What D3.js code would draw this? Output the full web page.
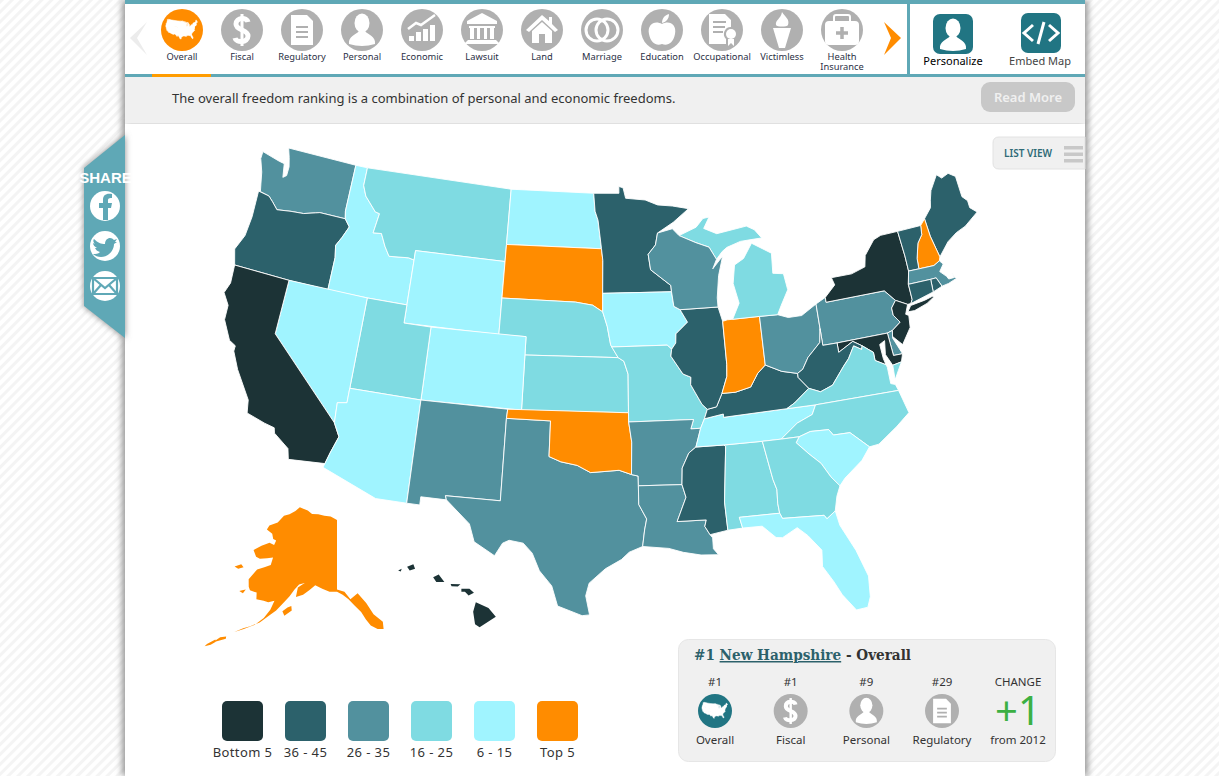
<!DOCTYPE html>
<html>
<head>
<meta charset="utf-8">
<script src="https://cdn.jsdelivr.net/npm/d3@7"></script>
<style>
html, body { margin: 0; padding: 0; background: #fff; overflow: hidden; }
svg { display: block; }
text { font-family: "Noto Sans", sans-serif; }
</style>
</head>
<body>
<svg id="page" width="1219" height="776"></svg>
<script>
// ---- state outlines, lon / lat ----
const WA = [[[-124.7,48.4],[-123.2,48.15],[-122.75,48.1],[-122.55,47.35],[-122.3,47.5],[-122.3,48.0],[-122.5,48.5],[-122.76,49],[-117.03,49],[-117.04,46.4],[-116.92,45.99],[-118.98,46],[-119.3,45.93],[-120.2,45.73],[-121.2,45.67],[-122.3,45.55],[-122.8,45.9],[-123.2,46.15],[-123.95,46.25],[-124.1,46.7],[-124.3,47.3],[-124.7,48]]];
const OR = [[[-124.1,46.25],[-123.2,46.15],[-122.8,45.9],[-122.3,45.55],[-121.2,45.67],[-120.2,45.73],[-119.3,45.93],[-118.98,46],[-116.92,45.99],[-116.47,45.6],[-116.85,44.95],[-117.2,44.45],[-117.03,43.8],[-117.03,42],[-120,42],[-124.2,42],[-124.55,42.84],[-124.1,43.7],[-124,44.8]]];
const ID = [[[-117.03,49],[-116.05,49],[-116.05,48],[-115.7,47.45],[-114.7,46.7],[-114.35,46.65],[-114.55,45.55],[-113.9,45.6],[-113.45,44.95],[-113,44.45],[-111.5,44.55],[-111.05,44.48],[-111.05,42],[-114.04,42],[-117.03,42],[-117.03,43.8],[-117.2,44.45],[-116.85,44.95],[-116.47,45.6],[-116.92,45.99],[-117.04,46.4]]];
const MT = [[[-116.05,49],[-104.05,49],[-104.05,45],[-111.05,45],[-111.05,44.48],[-111.5,44.55],[-113,44.45],[-113.45,44.95],[-113.9,45.6],[-114.55,45.55],[-114.35,46.65],[-114.7,46.7],[-115.7,47.45],[-116.05,48]]];
const WY = [[[-111.05,45],[-104.05,45],[-104.05,41],[-111.05,41]]];
const ND = [[[-104.05,49],[-97.23,49],[-97.1,48],[-96.85,47.5],[-96.56,45.94],[-104.05,45.94]]];
const SD = [[[-104.05,45.94],[-96.56,45.94],[-96.45,45.3],[-96.45,43.5],[-96.44,42.49],[-97.2,42.85],[-98.5,43],[-104.05,43]]];
const NE = [[[-104.05,43],[-98.5,43],[-97.2,42.85],[-96.44,42.49],[-96.1,41.7],[-95.85,40.7],[-95.31,40],[-102.05,40],[-102.05,41],[-104.05,41]]];
const KS = [[[-102.05,40],[-95.31,40],[-94.9,39.8],[-94.61,39.1],[-94.62,37],[-102.04,37]]];
const CO = [[[-109.05,41],[-102.05,41],[-102.04,37],[-109.05,37]]];
const UT = [[[-114.04,42],[-111.05,42],[-111.05,41],[-109.05,41],[-109.05,37],[-114.05,37]]];
const NV = [[[-120,42],[-114.04,42],[-114.05,37],[-114.05,36.2],[-114.7,36.1],[-114.63,35],[-120,39]]];
const CA = [[[-124.2,42],[-120,42],[-120,39],[-114.63,35],[-114.15,34.3],[-114.5,33.4],[-114.72,32.72],[-117.12,32.53],[-117.3,33.1],[-118.4,33.75],[-118.5,34.03],[-119.2,34.15],[-120.5,34.45],[-120.65,35.15],[-121.9,36.6],[-122.5,37.5],[-122.5,37.8],[-123,38],[-123.75,39],[-123.8,39.8],[-124.35,40.4],[-124.1,41]]];
const AZ = [[[-114.05,37],[-109.05,37],[-109.05,31.33],[-111.07,31.33],[-114.8,32.5],[-114.72,32.72],[-114.5,33.4],[-114.15,34.3],[-114.63,35],[-114.7,36.1],[-114.05,36.2]]];
const NM = [[[-109.05,37],[-103,37],[-103.04,36.5],[-103.04,32],[-106.62,32],[-106.53,31.78],[-108.2,31.78],[-108.2,31.33],[-109.05,31.33]]];
const TX = [[[-103.04,36.5],[-100,36.5],[-100,34.56],[-99.2,34.3],[-98.1,34.13],[-97.2,33.75],[-96.5,33.8],[-95.3,33.88],[-94.48,33.64],[-94.04,33.55],[-94.04,33.02],[-94.04,32],[-93.55,31.2],[-93.7,30.6],[-93.85,29.7],[-94.7,29.4],[-95.2,29],[-96.2,28.5],[-97.2,27.7],[-97.4,27],[-97.15,25.95],[-97.6,25.9],[-99.1,26.4],[-99.5,27.5],[-100.3,28.3],[-100.8,29.25],[-101.4,29.77],[-102.3,29.88],[-102.7,29.7],[-103.15,28.98],[-104.5,29.65],[-104.9,30.6],[-106.53,31.78],[-106.62,32],[-103.04,32]]];
const OK = [[[-103,37],[-94.62,37],[-94.62,36.5],[-94.43,35.4],[-94.48,33.64],[-95.3,33.88],[-96.5,33.8],[-97.2,33.75],[-98.1,34.13],[-99.2,34.3],[-100,34.56],[-100,36.5],[-103.04,36.5]]];
const MN = [[[-97.23,49],[-95.15,49],[-95.15,49.38],[-94.8,49.3],[-94.6,48.72],[-93,48.6],[-92,48.3],[-90.8,48.2],[-89.5,48],[-90.8,47.3],[-92.1,46.75],[-92.3,46.1],[-92.9,45.6],[-92.75,44.75],[-91.25,43.85],[-91.22,43.5],[-96.45,43.5],[-96.45,45.3],[-96.56,45.94],[-96.85,47.5],[-97.1,48]]];
const IA = [[[-96.45,43.5],[-91.22,43.5],[-91.1,42.7],[-90.65,42.5],[-90.15,41.8],[-91.05,41.2],[-91.1,40.7],[-91.42,40.38],[-91.73,40.61],[-95.77,40.58],[-95.85,40.7],[-96.1,41.7],[-96.44,42.49]]];
const MO = [[[-95.77,40.58],[-91.73,40.61],[-91.42,40.38],[-91.5,40],[-90.7,39],[-90.15,38.8],[-90.2,38.4],[-89.5,37.3],[-89.15,37],[-89.4,36.5],[-89.7,36],[-90.37,36],[-90.15,36.5],[-94.62,36.5],[-94.62,37],[-94.61,39.1],[-94.9,39.8],[-95.31,40]]];
const AR = [[[-94.62,36.5],[-90.15,36.5],[-90.37,36],[-89.7,36],[-90.1,35],[-90.6,34.7],[-91.1,33.9],[-91.17,33],[-94.04,33.02],[-94.04,33.55],[-94.48,33.64],[-94.43,35.4]]];
const LA = [[[-94.04,33.02],[-91.17,33],[-90.95,32.3],[-91.6,31],[-89.73,31],[-89.85,30.65],[-89.55,30.18],[-89.4,30],[-89.4,29.4],[-89.1,29.05],[-90.2,29.1],[-91.3,29.3],[-92.2,29.55],[-93.85,29.7],[-93.7,30.6],[-93.55,31.2],[-94.04,32]]];
const MS = [[[-90.1,35],[-88.2,35],[-88.1,34.9],[-88.47,31.9],[-88.4,30.35],[-89.55,30.18],[-89.85,30.65],[-89.73,31],[-91.6,31],[-90.95,32.3],[-91.17,33],[-91.1,33.9],[-90.6,34.7]]];
const AL = [[[-88.2,35],[-85.6,35],[-85.18,32.87],[-85,32.3],[-85.05,31.55],[-85,31],[-87.6,31],[-87.45,30.4],[-88.4,30.35],[-88.47,31.9],[-88.1,34.9]]];
const TN = [[[-90.1,35],[-88.2,35],[-85.6,35],[-84.32,35],[-83.1,35.75],[-82,36.1],[-81.68,36.59],[-83.68,36.6],[-88.07,36.5],[-88.07,36.68],[-89.4,36.5],[-89.7,36]]];
const KY = [[[-89.4,36.5],[-88.07,36.68],[-88.07,36.5],[-83.68,36.6],[-83.1,36.85],[-81.97,37.53],[-82.6,38.2],[-82.6,38.42],[-83.7,38.65],[-84.8,39.1],[-85.4,38.7],[-86,38],[-87.1,37.8],[-88.05,37.8],[-88.5,37.1],[-89.15,37]]];
const IL = [[[-90.65,42.5],[-87.8,42.5],[-87.55,41.7],[-87.53,39.35],[-87.6,38.7],[-88.05,37.8],[-88.5,37.1],[-89.15,37],[-89.5,37.3],[-90.2,38.4],[-90.15,38.8],[-90.7,39],[-91.5,40],[-91.42,40.38],[-91.1,40.7],[-91.05,41.2],[-90.15,41.8]]];
const IN = [[[-87.55,41.7],[-87.2,41.76],[-84.8,41.76],[-84.8,39.1],[-85.4,38.7],[-86,38],[-87.1,37.8],[-88.05,37.8],[-87.6,38.7],[-87.53,39.35]]];
const OH = [[[-84.8,41.76],[-83.45,41.73],[-82.7,41.5],[-81.7,41.5],[-80.52,42],[-80.52,40.64],[-80.7,39.9],[-81.7,39.2],[-82.2,38.6],[-82.6,38.42],[-83.7,38.65],[-84.8,39.1]]];
const MI = [
  [[-86.8,41.76],[-84.8,41.76],[-83.45,41.73],[-83.1,42.2],[-82.45,43],[-82.6,43.9],[-83.4,44],[-83.3,45.1],[-84.75,45.78],[-85.5,45],[-86.25,44.7],[-86.5,43.7],[-86.2,42.6]],
  [[-90.4,46.55],[-89,46.95],[-88.4,47.4],[-87.9,47.45],[-88.4,46.85],[-87.4,46.5],[-86,46.65],[-85,46.75],[-84.4,46.5],[-83.9,46],[-84.75,45.98],[-85.6,45.95],[-86.7,45.7],[-87.1,45.5],[-87.6,45.1],[-88.1,45.8],[-89.1,46.1]]
];
const WI = [[[-92.1,46.75],[-90.9,46.95],[-90.4,46.55],[-89.1,46.1],[-88.1,45.8],[-87.6,45.1],[-87.95,44.6],[-87.1,45.25],[-87.55,44.2],[-87.8,43],[-87.8,42.5],[-90.65,42.5],[-91.1,42.7],[-91.22,43.5],[-91.25,43.85],[-92.75,44.75],[-92.9,45.6],[-92.3,46.1]]];
const PA = [[[-80.52,42],[-79.76,42.27],[-79.76,42],[-75.35,42],[-74.7,41.36],[-75.1,41],[-75.1,40.6],[-74.72,40.15],[-75.4,39.8],[-75.79,39.72],[-79.48,39.72],[-80.52,39.72]]];
const NY = [
  [[-79.76,42.27],[-78.9,42.85],[-79.05,43.27],[-77.5,43.27],[-76.4,43.5],[-76.2,44.1],[-75.3,44.85],[-74.7,45],[-73.35,45],[-73.25,43.6],[-73.25,42.75],[-73.5,42.05],[-73.49,41.2],[-73.65,41],[-73.9,41],[-74.7,41.36],[-75.35,42],[-79.76,42]],
  [[-74,40.6],[-73.7,40.9],[-72.6,41],[-72,41.1],[-71.9,41.05],[-72.5,40.8],[-73.5,40.58]]
];
const NJ = [[[-74.7,41.36],[-73.9,41],[-74.2,40.5],[-74,40.4],[-74.1,39.75],[-74.9,38.93],[-75.5,39.5],[-75.4,39.8],[-74.72,40.15],[-75.1,40.6],[-75.1,41]]];
const DE = [[[-75.79,39.72],[-75.4,39.8],[-75.5,39.4],[-75.05,38.45],[-75.7,38.46]]];
const MD = [[[-79.48,39.72],[-75.79,39.72],[-75.7,38.46],[-75.05,38.45],[-75.25,38.03],[-75.9,37.95],[-76.25,38.6],[-76.1,39.35],[-76.5,39.2],[-76.45,38.4],[-76.35,38.05],[-77.05,38.4],[-77.05,38.85],[-77.75,39.32],[-78.35,39.65],[-79.48,39.2]]];
const WV = [[[-80.52,40.64],[-80.52,39.72],[-79.48,39.72],[-79.48,39.2],[-78.35,39.65],[-77.75,39.32],[-77.83,39.13],[-78.35,39.4],[-78.87,38.77],[-79.3,38.42],[-80.3,37.5],[-81.2,37.25],[-81.97,37.53],[-82.6,38.2],[-82.6,38.42],[-82.2,38.6],[-81.7,39.2],[-80.7,39.9]]];
const VA = [
  [[-83.68,36.6],[-81.68,36.59],[-75.87,36.55],[-76,36.9],[-76.3,37],[-76.3,37.9],[-76.35,38.05],[-77.05,38.4],[-77.05,38.85],[-77.75,39.32],[-77.83,39.13],[-78.35,39.4],[-78.87,38.77],[-79.3,38.42],[-80.3,37.5],[-81.2,37.25],[-81.97,37.53],[-83.1,36.85]],
  [[-75.25,38.03],[-75.9,37.95],[-75.95,37.15],[-75.6,37.6]]
];
const NC = [[[-84.32,35],[-83.1,35.75],[-82,36.1],[-81.68,36.59],[-75.87,36.55],[-75.5,35.25],[-76.5,34.65],[-77.9,33.9],[-78.55,33.85],[-79.67,34.8],[-80.8,34.82],[-81.05,35.15],[-82.3,35.2],[-83.1,35]]];
const SC = [[[-83.1,35],[-82.3,35.2],[-81.05,35.15],[-80.8,34.82],[-79.67,34.8],[-78.55,33.85],[-79.2,33.2],[-80.5,32.4],[-80.9,32.03],[-81.4,32.6],[-81.9,33.4],[-82.6,34],[-83.35,34.7]]];
const GA = [[[-85.6,35],[-84.32,35],[-83.1,35],[-83.35,34.7],[-82.6,34],[-81.9,33.4],[-81.4,32.6],[-80.9,32.03],[-81.2,31.5],[-81.45,30.72],[-82.05,30.36],[-82.2,30.57],[-84.86,30.7],[-85,31],[-85.05,31.55],[-85,32.3],[-85.18,32.87]]];
const FL = [[[-87.6,31],[-85,31],[-84.86,30.7],[-82.2,30.57],[-82.05,30.36],[-81.45,30.72],[-81.3,29.9],[-80.55,28.4],[-80.05,26.9],[-80.15,25.75],[-80.4,25.2],[-81.1,25.15],[-81.8,26.1],[-82.2,26.9],[-82.75,27.8],[-82.65,28.7],[-83.4,29.6],[-84,30.1],[-85,29.65],[-85.4,29.7],[-86.2,30.4],[-87.45,30.4]]];
const ME = [[[-71.08,45.3],[-70.4,45.8],[-70.25,46.2],[-70,46.7],[-69.23,47.46],[-68.9,47.2],[-68.3,47.35],[-67.8,47.07],[-67.78,45.9],[-67.45,45.6],[-67.45,45.2],[-67,44.85],[-68.2,44.3],[-69,44.1],[-69.8,43.75],[-70.7,43.07],[-71,44.3]]];
const NH = [[[-71.5,45],[-71.08,45.3],[-71,44.3],[-70.7,43.07],[-70.82,42.87],[-71.3,42.7],[-72.46,42.73],[-72.4,43.3],[-72.05,44.1],[-71.6,44.5]]];
const VT = [[[-73.35,45],[-71.5,45],[-71.6,44.5],[-72.05,44.1],[-72.4,43.3],[-72.46,42.73],[-73.25,42.75],[-73.25,43.6]]];
const MA = [[[-73.5,42.05],[-73.25,42.75],[-72.46,42.73],[-71.3,42.7],[-70.82,42.87],[-70.6,42.65],[-71,42.3],[-70.6,41.95],[-70.5,41.78],[-70.05,41.78],[-70.2,42.07],[-69.95,41.7],[-70.6,41.55],[-71.12,41.5],[-71.38,42.02],[-71.8,42.02]]];
const RI = [[[-71.8,42.02],[-71.38,42.02],[-71.12,41.5],[-71.85,41.32]]];
const CT = [[[-73.5,42.05],[-71.8,42.02],[-71.85,41.32],[-73.65,41],[-73.49,41.2]]];
const AK = [
  [[-141,69.65],[-143.5,70.1],[-146,70.2],[-148.5,70.4],[-151,70.45],[-153,70.9],[-156.6,71.35],[-158,70.85],[-160,70.4],[-162,70.2],[-163.5,69.3],[-166.2,68.9],[-166.5,68.35],[-164,67.8],[-163,67.1],[-161.8,66.9],[-162,66.3],[-163.8,66.6],[-166.1,66.2],[-168.1,65.6],[-166.4,64.7],[-165,64.45],[-162.8,64.5],[-161,64.6],[-161,63.6],[-162.7,63.3],[-164.6,63],[-166,61.7],[-165.2,60.7],[-164.5,60.2],[-162.5,59.9],[-162,59],[-160,58.8],[-158.7,58.6],[-157.2,58.8],[-157.7,57.6],[-158.8,56.5],[-160.5,55.6],[-162.8,55],[-164.8,54.6],[-163,55.1],[-161.5,55.4],[-159.5,55.9],[-157.7,56.8],[-156.2,57.5],[-154.5,58.7],[-153.5,59.4],[-152.5,60.3],[-151.5,61],[-150,61.2],[-151.7,60.6],[-151.8,59.3],[-150,59.6],[-148.5,60.2],[-147,60.9],[-145,60.4],[-143,60],[-141,60],[-139.5,59.6],[-138,59],[-136.6,58.2],[-135,57.3],[-134,56.3],[-133,55.5],[-131.5,55],[-130.1,55],[-130,56],[-132,57],[-133.5,58.5],[-135.5,59.8],[-137.5,59],[-139,60],[-141,60.3]],
  [[-154.6,57.4],[-153.9,56.8],[-152.3,57.5],[-152.6,58.1],[-153.5,57.9]],
  [[-171.7,63.4],[-170,63.7],[-168.9,63.3],[-170.3,63.1]],
  [[-166.6,60.2],[-165.7,60.3],[-166.1,59.8],[-167.3,60.1]],
  [[-168.9,53.2],[-166.2,53.7],[-166.3,54],[-167.6,53.9]],
  [[-170.3,52.7],[-169.1,52.9],[-168.2,53.3],[-168.5,53.6],[-170,53]]
];
const HI = [
  [[-155.9,20.25],[-155.2,19.95],[-154.8,19.5],[-155.7,18.95],[-155.95,19.1],[-156.05,19.75]],
  [[-156.7,20.95],[-156.25,20.95],[-156,20.75],[-156.3,20.6],[-156.5,20.8],[-156.7,20.8]],
  [[-157.3,21.2],[-156.75,21.18],[-156.9,21.07],[-157.25,21.08]],
  [[-158.28,21.55],[-157.97,21.7],[-157.65,21.3],[-158.1,21.3]],
  [[-159.75,22.1],[-159.4,22.23],[-159.3,22],[-159.6,21.9]],
  [[-160.25,21.9],[-160.05,22],[-160.1,21.85]]
];
const stateShapes = { WA, OR, ID, MT, WY, ND, SD, NE, KS, CO, UT, NV, CA, AZ, NM, TX, OK, MN, IA, MO, AR, LA, MS, AL, TN, KY, IL, IN, OH, MI, WI, PA, NY, NJ, DE, MD, WV, VA, NC, SC, GA, FL, ME, NH, VT, MA, RI, CT, AK, HI };

// ---- ranking groups ----
const top5 = ["NH", "SD", "IN", "OK", "AK"];
const rank6to15 = ["ID", "NV", "WY", "ND", "CO", "AZ", "IA", "TN", "SC", "FL"];
const rank16to25 = ["MT", "UT", "NE", "KS", "MO", "MI", "VA", "NC", "GA", "AL"];
const rank26to35 = ["WA", "TX", "NM", "AR", "LA", "WI", "OH", "PA", "MA", "DE"];
const rank36to45 = ["OR", "MN", "IL", "KY", "MS", "WV", "ME", "VT", "CT", "RI"];
const bottom5 = ["CA", "NY", "NJ", "MD", "HI"];

const legendLabels = ["Bottom 5", "36 - 45", "26 - 35", "16 - 25", "6 - 15", "Top 5"];
const legendColors = ["#1c3336", "#2c616b", "#52919e", "#7fdbe2", "#a0f4ff", "#ff8c00"];
const groups = [bottom5, rank36to45, rank26to35, rank16to25, rank6to15, top5];

const navLabels = ["Overall", "Fiscal", "Regulatory", "Personal", "Economic", "Lawsuit", "Land", "Marriage", "Education", "Occupational", "Victimless", "Health Insurance"];
const infoRanks = ["#1", "#1", "#9", "#29"];
const infoLabels = ["Overall", "Fiscal", "Personal", "Regulatory"];

const TEAL = "#5fa8b6", DARK_TEAL = "#217583", ICON_GREY = "#b0b0b0", TEXT = "#333";

const svg = d3.select("#page");
const defs = svg.append("defs");
const stripes = defs.append("pattern").attr("id", "stripes").attr("width", 7).attr("height", 7)
  .attr("patternUnits", "userSpaceOnUse").attr("patternTransform", "rotate(-45)");
stripes.append("rect").attr("width", 7).attr("height", 7).attr("fill", "#fff");
stripes.append("rect").attr("width", 7).attr("height", 3).attr("fill", "#f4f4f4");
const blur = defs.append("filter").attr("id", "blur").attr("x", "-20%").attr("width", "140%");
blur.append("feGaussianBlur").attr("stdDeviation", 3);

// ---- page background and frame ----
svg.append("rect").attr("width", 1219).attr("height", 776).attr("fill", "url(#stripes)");
svg.append("rect").attr("x", 122).attr("y", 0).attr("width", 966).attr("height", 776)
  .attr("fill", "#999").attr("filter", "url(#blur)");
svg.append("rect").attr("x", 125).attr("y", 0).attr("width", 960).attr("height", 776).attr("fill", "#fff");
svg.append("rect").attr("x", 125).attr("y", 0).attr("width", 960).attr("height", 4).attr("fill", TEAL);
svg.append("rect").attr("x", 125).attr("y", 74).attr("width", 960).attr("height", 3).attr("fill", TEAL);
svg.append("rect").attr("x", 907).attr("y", 4).attr("width", 3).attr("height", 73).attr("fill", TEAL);
svg.append("rect").attr("x", 125).attr("y", 120).attr("width", 960).attr("height", 3).attr("fill", "#999").attr("filter", "url(#blur)");
svg.append("rect").attr("x", 125).attr("y", 77).attr("width", 960).attr("height", 46).attr("fill", "#f0f0f0");
svg.append("rect").attr("x", 152).attr("y", 74).attr("width", 59).attr("height", 3).attr("fill", "#ff9c00");

// ---- map ----
// plain sinusoidal for the insets, keeps the Alaska border upright as in the picture
const sinusoidal = (l, p) => [l * Math.cos(p), p];
const lower48 = d3.geoAlbers().parallels([29.5, 45.5]).rotate([96, 0]).center([0, 38]).scale(1045).translate([608.6, 394.5]);
const alaska = d3.geoProjection(sinusoidal).rotate([141, 0]).scale(427).translate([337, 1039]);
const hawaii = d3.geoProjection(sinusoidal).rotate([157, 0]).scale(1100).translate([456, 991]);
const projectionFor = s => s === "AK" ? alaska : s === "HI" ? hawaii : lower48;

const shapePath = (rings, proj) => rings.map(r => d3.line()(r.map(d => proj(d))) + "Z").join("");
const color = d3.scaleOrdinal().domain(legendLabels).range(legendColors);
const groupOf = s => legendLabels[groups.findIndex(g => g.includes(s))];

svg.append("g").selectAll("path")
  .data(Object.keys(stateShapes))
  .join("path")
  .attr("d", s => shapePath(stateShapes[s], projectionFor(s)))
  .attr("fill", s => color(groupOf(s)))
  .attr("stroke", s => (s === "AK" || s === "HI") ? "none" : "#fff")
  .attr("stroke-width", 0.9)
  .attr("stroke-linejoin", "round");

// ---- icons, drawn around 0,0 in a circle of radius 21 ----
const usIcon = d3.geoAlbers().parallels([29.5, 45.5]).rotate([96, 0]).center([0, 37.5]).scale(44).translate([0, 0]);
const usOutline = Object.keys(stateShapes).filter(s => s !== "AK" && s !== "HI")
  .map(s => shapePath(stateShapes[s], usIcon)).join("");

const W = "#fff";
const icons = {
  Overall: g => g.append("path").attr("d", usOutline).attr("fill", W).attr("stroke", W).attr("stroke-width", 0.6),
  Fiscal: g => {
    g.append("path").attr("d", "M6,-8C5,-13 -6,-13 -6,-6C-6,1 6,-1 6,6C6,13 -6,13 -7,8").attr("fill", "none").attr("stroke", W).attr("stroke-width", 5);
    g.append("rect").attr("x", -1.5).attr("y", -16).attr("width", 3).attr("height", 32).attr("fill", W);
  },
  Regulatory: g => {
    g.append("path").attr("d", "M-11,-15H5L11,-9V15H-11Z").attr("fill", W);
    g.append("path").attr("d", "M-6,-3H6M-6,2H6M-6,7H6").attr("stroke", ICON_GREY).attr("stroke-width", 2);
  },
  Personal: g => {
    g.append("ellipse").attr("cy", -7).attr("rx", 7.5).attr("ry", 9.5).attr("fill", W);
    g.append("path").attr("d", "M-13,14C-14,6 -6,5 -3,1H3C6,5 14,6 13,14Q0,18 -13,14Z").attr("fill", W);
  },
  Economic: g => {
    g.append("path").attr("d", "M-13,6V11H-8V6ZM-6,2V11H-1V2ZM1,-1V11H6V-1ZM8,-5V11H13V-5Z").attr("fill", W);
    g.append("path").attr("d", "M-14,-1L-6,-7L-1,-5L13,-15").attr("fill", "none").attr("stroke", W).attr("stroke-width", 2.5);
  },
  Lawsuit: g => {
    g.append("path").attr("d", "M0,-17L15,-9V-6H-15V-9ZM-13,-4H13V-2H-13ZM-12,-2H-8V9H-12ZM-5,-2H-2V9H-5ZM2,-2H5V9H2ZM8,-2H12V9H8ZM-14,10H14L18,14H-18Z").attr("fill", W);
  },
  Land: g => {
    g.append("path").attr("d", "M0,-15L7,-9V-13H10V-6L16,0L13,2L0,-10L-13,2L-16,0Z").attr("fill", W);
    g.append("path").attr("d", "M-10,1L0,-8L10,1V13H3V4H-3V13H-10Z").attr("fill", W);
  },
  Marriage: g => {
    g.selectAll("circle").data([-5, 5]).join("circle").attr("cx", d => d).attr("r", 11)
      .attr("fill", "none").attr("stroke", W).attr("stroke-width", 3);
  },
  Education: g => {
    g.append("path").attr("d", "M0,-6C-7,-10 -15,-6 -13,4C-11,14 -5,16 0,14C5,16 11,14 13,4C15,-6 7,-10 0,-6Z").attr("fill", W);
    g.append("path").attr("d", "M0,-7C0,-12 3,-15 7,-16C7,-11 4,-8 0,-7Z").attr("fill", W);
  },
  Occupational: g => {
    g.append("path").attr("d", "M-13,-16H3L9,-10V-3A7,7 0 0 0 4,9V14H-13Z").attr("fill", W);
    g.append("path").attr("d", "M-9,-8H4M-9,-3H3M-9,2H1").attr("stroke", ICON_GREY).attr("stroke-width", 2);
    g.append("circle").attr("cx", 9).attr("cy", 4).attr("r", 5).attr("fill", W);
    g.append("path").attr("d", "M6,9V16L9,13L12,16V9Z").attr("fill", W);
  },
  Victimless: g => {
    g.append("path").attr("d", "M-9,-2H9L3,18H-3Z").attr("fill", W);
    g.append("path").attr("d", "M0,-18C3,-13 8,-11 6,-5C5,-3 -5,-3 -6,-5C-7,-10 -1,-11 0,-18Z").attr("fill", W);
  },
  "Health Insurance": g => {
    g.append("rect").attr("x", -17).attr("y", -9).attr("width", 34).attr("height", 24).attr("rx", 4).attr("fill", W);
    g.append("rect").attr("x", -8).attr("y", -15).attr("width", 16).attr("height", 8).attr("rx", 2).attr("fill", "none").attr("stroke", W).attr("stroke-width", 2);
    g.append("path").attr("d", "M-6,3H6M0,-3V9").attr("stroke", ICON_GREY).attr("stroke-width", 3.5);
  }
};

function drawIcon(g, name, r, fill) {
  g.append("circle").attr("r", r).attr("fill", fill);
  icons[name](g.append("g").attr("transform", `scale(${r / 21})`));
}

// ---- top navigation ----
const navX = d3.scalePoint().domain(navLabels).range([182, 842]);
const nav = svg.append("g").selectAll("g").data(navLabels).join("g")
  .attr("transform", d => `translate(${navX(d)},30)`);
nav.each(function (d, i) {
  drawIcon(d3.select(this), d, 21, i === 0 ? "#ff8c00" : ICON_GREY);
});
nav.append("text").attr("text-anchor", "middle").attr("font-size", 9.3).attr("fill", "#2a2f45")
  .each(function (d) {
    const words = d === "Health Insurance" ? d.split(" ") : [d];
    d3.select(this).selectAll("tspan").data(words).join("tspan")
      .attr("x", 0).attr("y", (w, i) => 30 + i * 10).text(w => w);
  });

svg.append("path").attr("d", "M147,22L130,38L147,55L137,38Z").attr("fill", "#ececec");
svg.append("path").attr("d", "M884,22L901,38L884,55L891,38Z").attr("fill", "#ff8c00");

// personalize / embed buttons
svg.append("rect").attr("x", 933).attr("y", 14).attr("width", 40).attr("height", 40).attr("rx", 7).attr("fill", DARK_TEAL);
icons.Personal(svg.append("g").attr("transform", "translate(953,35)"));
svg.append("rect").attr("x", 1021).attr("y", 13).attr("width", 40).attr("height", 40).attr("rx", 7).attr("fill", DARK_TEAL);
svg.append("path").attr("d", "M1033,25L1024,33L1033,41M1049,25L1058,33L1049,41M1044,22L1038,44")
  .attr("fill", "none").attr("stroke", W).attr("stroke-width", 3);
svg.append("text").attr("x", 953).attr("y", 65).attr("text-anchor", "middle").attr("font-size", 11).attr("fill", "#000").text("Personalize");
svg.append("text").attr("x", 1040).attr("y", 65).attr("text-anchor", "middle").attr("font-size", 11).attr("fill", "#444").text("Embed Map");

// description strip
svg.append("text").attr("x", 172).attr("y", 103).attr("font-size", 13).attr("fill", TEXT)
  .text("The overall freedom ranking is a combination of personal and economic freedoms.");
svg.append("rect").attr("x", 981).attr("y", 82).attr("width", 94).attr("height", 30).attr("rx", 9).attr("fill", "#c8c8c8");
svg.append("text").attr("x", 1028).attr("y", 102).attr("text-anchor", "middle").attr("font-size", 13).attr("font-weight", 600).attr("fill", "#f0f0f0").text("Read More");

// list view tab
svg.append("path").attr("d", "M1085,137H999Q993,137 993,143V163Q993,169 999,169H1085Z").attr("fill", "#f0f0f0").attr("stroke", "#e2e2e2");
svg.append("text").attr("x", 1004).attr("y", 157).attr("font-size", 10).attr("font-weight", 600).attr("fill", "#2f6b77").text("LIST VIEW");
svg.append("g").selectAll("rect").data([146, 152.5, 159]).join("rect")
  .attr("x", 1064).attr("y", d => d).attr("width", 19).attr("height", 3.5).attr("fill", "#c8c8c8");

// ---- share ribbon ----
svg.append("path").attr("d", "M125,135V338L84,306V168Z").attr("fill", "#888").attr("filter", "url(#blur)");
svg.append("path").attr("d", "M125,135V338L84,306V168Z").attr("fill", TEAL);
svg.append("text").attr("x", 105.5).attr("y", 183).attr("text-anchor", "middle").attr("font-size", 15)
  .attr("font-weight", 700).attr("fill", W).style("font-family", "'Liberation Sans Narrow', sans-serif").text("SHARE");
svg.append("g").selectAll("circle").data([206, 246, 286]).join("circle")
  .attr("cx", 105).attr("cy", d => d).attr("r", 15).attr("fill", W);
svg.append("path").attr("transform", "translate(105,206)")
  .attr("d", "M-2,14V2H-6V-3H-2V-6C-2,-11 1,-13 7,-12V-8C3,-8 3,-7 3,-5V-3H7L6,2H3V14Z").attr("fill", TEAL);
svg.append("path").attr("transform", "translate(105,246)")
  .attr("d", "M-11,-7C-7,-3 -4,-2 0,-2C0,-8 6,-10 9,-6L12,-7L10,-4L12,-4L9,-2C9,5 3,11 -4,11C-7,11 -10,10 -12,8C-9,8 -7,8 -5,6C-8,5 -9,4 -10,2H-8C-10,1 -12,-1 -12,-3L-10,-2C-12,-4 -12,-6 -11,-7Z").attr("fill", TEAL);
svg.append("path").attr("transform", "translate(105,286)")
  .attr("d", "M-12,-8H12V8H-12ZM-12,-8L0,2L12,-8M-12,8L-4,-1M12,8L4,-1")
  .attr("fill", "none").attr("stroke", TEAL).attr("stroke-width", 2.2);

// ---- legend ----
const legendX = d3.scaleBand().domain(legendLabels).range([222, 578]).paddingInner(22 / 63).paddingOuter(0);
const legend = svg.append("g").selectAll("g").data(legendLabels).join("g")
  .attr("transform", d => `translate(${legendX(d)},0)`);
legend.append("rect").attr("y", 701).attr("width", legendX.bandwidth()).attr("height", 40).attr("rx", 5).attr("fill", d => color(d));
legend.append("text").attr("x", legendX.bandwidth() / 2).attr("y", 757).attr("text-anchor", "middle")
  .attr("font-size", 13).attr("letter-spacing", 0.4).attr("fill", TEXT).text(d => d);

// ---- state detail box ----
svg.append("rect").attr("x", 678.5).attr("y", 639.5).attr("width", 377).attr("height", 122).attr("rx", 10)
  .attr("fill", "#f0f0f0").attr("stroke", "#e6e6e6");
const title = svg.append("text").attr("x", 694).attr("y", 660).attr("font-size", 15).attr("font-weight", 700)
  .attr("fill", TEXT).style("font-family", "'DejaVu Serif', serif").attr("textLength", 217).attr("lengthAdjust", "spacingAndGlyphs");
title.append("tspan").attr("fill", "#2c616b").text("#1 ");
title.append("tspan").attr("fill", "#2c616b").attr("text-decoration", "underline").text("New Hampshire");
title.append("tspan").text(" - Overall");

const infoX = d3.scalePoint().domain(infoLabels).range([715, 942]);
const info = svg.append("g").selectAll("g").data(infoLabels).join("g")
  .attr("transform", d => `translate(${infoX(d)},0)`);
info.append("text").attr("y", 686).attr("text-anchor", "middle").attr("font-size", 11.5).attr("fill", TEXT).text((d, i) => infoRanks[i]);
info.append("g").attr("transform", "translate(0,711)").each(function (d, i) {
  drawIcon(d3.select(this), d, 17, i === 0 ? DARK_TEAL : ICON_GREY);
});
info.append("text").attr("y", 744).attr("text-anchor", "middle").attr("font-size", 11.5).attr("fill", TEXT).text(d => d);

svg.append("text").attr("x", 1018).attr("y", 686).attr("text-anchor", "middle").attr("font-size", 11.5).attr("fill", TEXT).text("CHANGE");
svg.append("text").attr("x", 1018).attr("y", 725).attr("text-anchor", "middle").attr("font-size", 40).attr("fill", "#3cb043").text("+1");
svg.append("text").attr("x", 1018).attr("y", 744).attr("text-anchor", "middle").attr("font-size", 11.5).attr("fill", TEXT).text("from 2012");
</script>
</body>
</html>
